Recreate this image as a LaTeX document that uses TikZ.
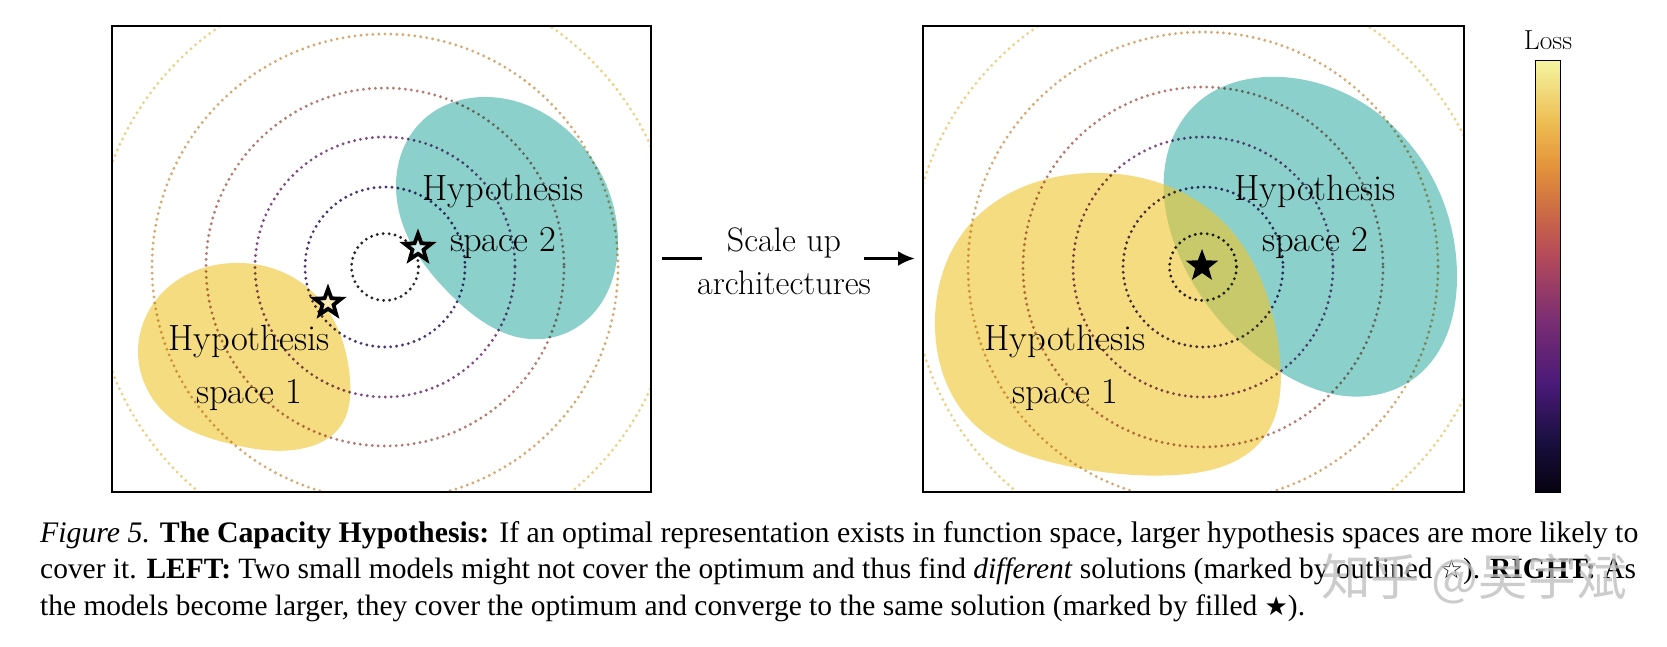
\documentclass[tikz,border=0pt]{standalone}
\usepackage{xcolor}
\usepackage{fontspec}
\usepackage{tikz}
\usetikzlibrary{arrows.meta,shapes.geometric,hobby}
\newfontfamily\capfont{Liberation Serif}
\newfontfamily\symfont{DejaVu Sans}
\newfontfamily\cjkfont{Noto Sans CJK SC}
\definecolor{lossa}{HTML}{000004}
\definecolor{lossb}{HTML}{2A1458}
\definecolor{lossc}{HTML}{6B2C70}
\definecolor{lossd}{HTML}{A86458}
\definecolor{losse}{HTML}{CE9A58}
\definecolor{lossf}{HTML}{E8C870}
\definecolor{hypteal}{RGB}{63,177,170}
\definecolor{hypyellow}{RGB}{240,197,43}
\pgfdeclareverticalshading{lossbar}{100bp}{
  rgb(0bp)=(0.02,0.01,0.06); rgb(25bp)=(0.02,0.01,0.06); rgb(31bp)=(0.10,0.06,0.25); rgb(37.5bp)=(0.29,0.10,0.47);
  rgb(45bp)=(0.48,0.18,0.45); rgb(52.5bp)=(0.71,0.29,0.35); rgb(57.5bp)=(0.80,0.42,0.27);
  rgb(62.5bp)=(0.89,0.57,0.23); rgb(67.5bp)=(0.93,0.73,0.31); rgb(75bp)=(0.96,0.96,0.63); rgb(100bp)=(0.96,0.96,0.63)}
\tikzset{
  panel/.style={draw=black, line width=2.4pt},
  contour/.style={line width=3.2pt, line cap=round, dash pattern=on 0pt off 6pt, blend mode=multiply, draw opacity=0.85},
  blobteal/.style={fill=hypteal, fill opacity=0.6, use Hobby shortcut, closed=true},
  blobyellow/.style={fill=hypyellow, fill opacity=0.6, use Hobby shortcut, closed=true},
  hypothesis/.style={font=\fontsize{36.5}{36.5}\selectfont, text=black, inner sep=0pt},
  outlined/.style={shape=star, star points=5, star point ratio=2.4, draw=black, line width=3.8pt, inner sep=0pt, minimum size=28pt},
  capline/.style={anchor=base west, inner sep=0pt, font=\capfont\fontsize{29.8}{29.8}\selectfont, text=black},
  capsmall/.style={font=\capfont\fontsize{29.45}{29.45}\selectfont},
  link/.style={line width=3.2pt, draw=black}
}
\begin{document}
\begin{tikzpicture}[x=1pt, y=-1pt]
 \useasboundingbox (0,0) rectangle (1667,646);
 % left panel
 \begin{scope}
  \clip (112,26) rectangle (651,492);
  \fill [blobteal] (483,97) .. (580,143) .. (618,240) .. (583,323) .. (530,339) .. (453,297) .. (398,207) .. (420,123);
  \fill [blobyellow] (233,263) .. (307,287) .. (350,380) .. (340,427) .. (300,449) .. (227,443) .. (173,420) .. (138,353) .. (165,290);
  \draw [contour, lossa] (385,267) circle (33.5);
  \draw [contour, lossb] (385,267) circle (80);
  \draw [contour, lossc] (385,267) circle (130);
  \draw [contour, lossd] (385,267) circle (179);
  \draw [contour, losse] (385,267) circle (233);
  \draw [contour, lossf] (385,267) circle (292);
 \end{scope}
 \node (leftpanel) at (381.5,259) [panel, minimum width=539pt, minimum height=466pt, inner sep=0pt] { };
 \node (leftteal) at (503,192) [hypothesis] {Hypothesis};
 \node (leftteal2) at (503,243) [hypothesis] {space 2};
 \node (leftyellow) at (249,342) [hypothesis] {Hypothesis};
 \node (leftyellow2) at (249,395) [hypothesis] {space 1};
 \node (starteal) at (418,248) [outlined, fill=hypteal!25!white] { };
 \node (staryellow) at (328,303) [outlined, fill=hypyellow!35!white] { };

 % right panel
 \begin{scope}
  \clip (923,26) rectangle (1464,492);
  \fill [blobteal] (1281,77) .. (1397,130) .. (1457,277) .. (1416,377) .. (1345,396) .. (1277,370) .. (1178,253) .. (1164,197) .. (1195,105);
  \fill [blobyellow] (1090,173) .. (1218,217) .. (1279,350) .. (1262,440) .. (1175,475) .. (1063,465) .. (975,425) .. (935,319) .. (965,230);
  \draw [contour, lossa] (1203,267) circle (33.5);
  \draw [contour, lossb] (1203,267) circle (80);
  \draw [contour, lossc] (1203,267) circle (130);
  \draw [contour, lossd] (1203,267) circle (180);
  \draw [contour, losse] (1203,267) circle (235);
  \draw [contour, lossf] (1203,267) circle (292);
 \end{scope}
 \node (rightpanel) at (1193.5,259) [panel, minimum width=541pt, minimum height=466pt, inner sep=0pt] { };
 \node (rightteal) at (1315,192) [hypothesis] {Hypothesis};
 \node (rightteal2) at (1315,243) [hypothesis] {space 2};
 \node (rightyellow) at (1065,342) [hypothesis] {Hypothesis};
 \node (rightyellow2) at (1065,395) [hypothesis] {space 1};
 \node (starfilled) at (1202,266) [shape=star, star points=5, star point ratio=2.4, fill=black, inner sep=0pt, minimum size=34pt] { };

 % scale up
 \node (scaletext) at (784,243) [hypothesis, font=\fontsize{34}{34}\selectfont] {Scale up};
 \node (archtext) at (784,283) [hypothesis, font=\fontsize{34}{34}\selectfont] {architectures};
 \coordinate (dashstart) at (662,258.5);
 \coordinate (dashend) at (702,258.5);
 \coordinate (arrowstart) at (864,258.5);
 \coordinate (arrowend) at (915,258.5);
 \draw [link] (dashstart) -- (dashend);
 \draw [link, -{Latex[length=17pt,width=15pt]}] (arrowstart) -- (arrowend);

 % colorbar
 \node (bar) at (1548,276.3) [draw=black, line width=1.6pt, minimum width=25pt, minimum height=432pt, inner sep=0pt, shading=lossbar] { };
 \node (losstext) at (1548,40) [inner sep=0pt, font=\fontsize{27.5}{27.5}\selectfont] {Loss};

 % caption
 \node (capa) at (40,542) [capline] {\textit{Figure 5.} \textbf{The Capacity Hypothesis:} If an optimal representation exists in function space, larger hypothesis spaces are more likely to};
 \node (capb) at (40,578) [capline, capsmall] {cover it. \textbf{LEFT:} Two small models might not cover the optimum and thus find \textit{different} solutions (marked by outlined {\symfont\fontsize{26}{26}\selectfont ☆}). \textbf{RIGHT:} As};
 \node (capc) at (40,615) [capline, capsmall] {the models become larger, they cover the optimum and converge to the same solution (marked by filled {\symfont\fontsize{26}{26}\selectfont ★}).};
 \node (mark) at (1474,579) [inner sep=0pt, text=black!25, opacity=0.8, font=\cjkfont\fontsize{49.5}{49.5}\selectfont] {知乎 @吴宇斌};
\end{tikzpicture}
\end{document}
